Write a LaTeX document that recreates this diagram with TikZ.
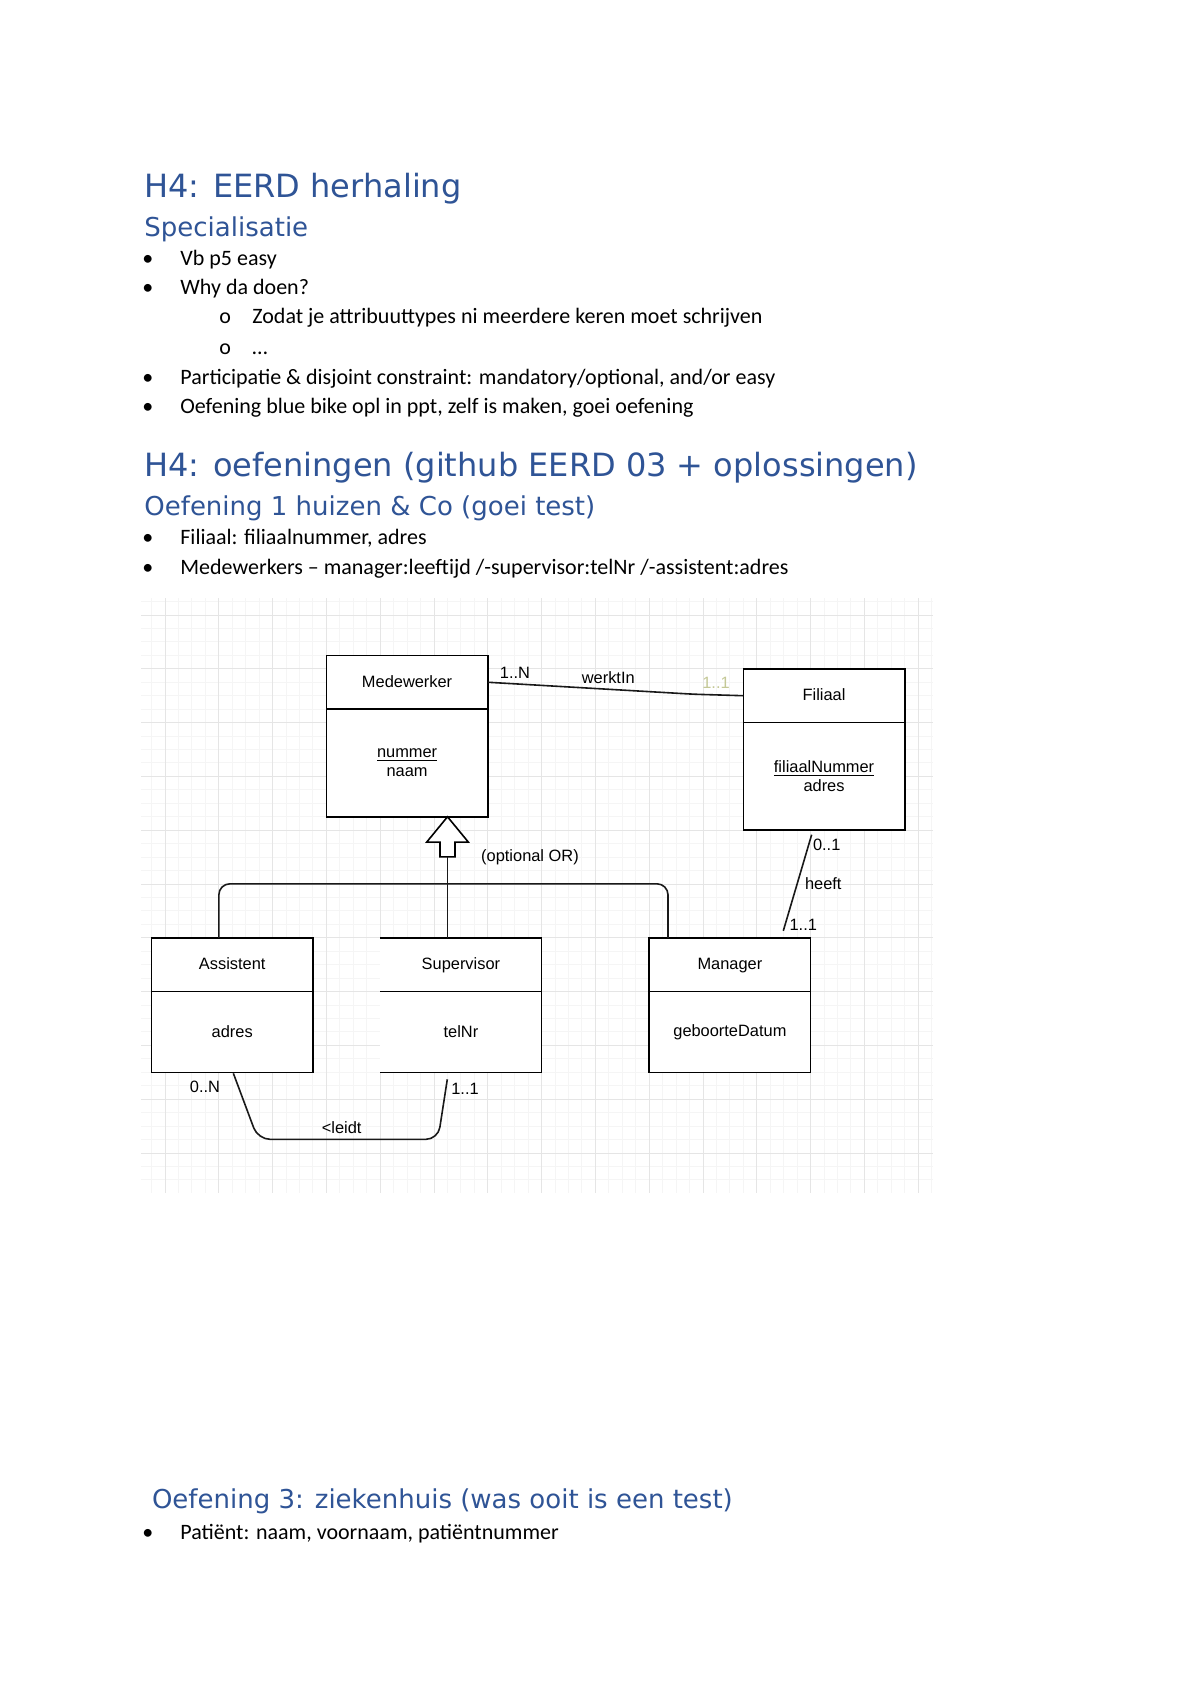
\documentclass[tikz,border=0pt]{standalone}
\usepackage{fontspec}
\setmainfont{Carlito}
\newfontfamily\headfont{DejaVu Sans}
\newfontfamily\diafont{Liberation Sans}
\usetikzlibrary{positioning,calc}
\definecolor{headblue}{RGB}{47,84,150}
\definecolor{gridminor}{RGB}{245,245,245}
\definecolor{gridmajor}{RGB}{229,229,229}
\definecolor{fadedlbl}{RGB}{196,200,150}

\begin{document}
\begin{tikzpicture}[
    x=0.5pt, y=-0.5pt,
    hone/.style={anchor=base west, inner sep=0pt, text=headblue, font=\headfont\fontsize{16}{19}\selectfont},
    htwo/.style={hone, font=\headfont\fontsize{13}{16}\selectfont},
    para/.style={anchor=base west, inner sep=0pt, font=\fontsize{11}{13}\selectfont},
    head/.style={rectangle, draw, fill=white, line width=0.8pt, outer sep=0pt, inner sep=0pt, minimum width=80.7pt, minimum height=26.9pt, font=\diafont\fontsize{8.2}{9.4}\selectfont},
    title/.style={head, text height=6pt, text depth=1.2pt},
    attr/.style={head, align=center},
    headopen/.style={title, draw=none},
    attropen/.style={attr, draw=none},
    lbl/.style={inner sep=0pt, font=\diafont\fontsize{8.2}{9.4}\selectfont},
    link/.style={line width=0.8pt, draw=black!90}
]
    \fill[white] (0,0) rectangle (1200,1698);
    \useasboundingbox (0,0) rectangle (1200,1698);

    \node[hone] (hOne) at (144,197) {H4: EERD herhaling};
    \node[htwo] (hSpec) at (144,236) {Specialisatie};
    \node[para] (dotA) at (142,265) {•};
    \node[para] (txtA) at (180,265) {Vb p5 easy};
    \node[para] (dotB) at (142,294.6) {•};
    \node[para] (txtB) at (180,294.6) {Why da doen?};
    \node[para] (subA) at (219,323.8) {o};
    \node[para] (txtC) at (252,323.8) {Zodat je attribuuttypes ni meerdere keren moet schrijven};
    \node[para] (subB) at (219,354) {o};
    \node[para] (txtD) at (252,354) {…};
    \node[para] (dotC) at (142,384.5) {•};
    \node[para] (txtE) at (180,384.5) {Participatie \& disjoint constraint: mandatory/optional, and/or easy};
    \node[para] (dotD) at (142,413.7) {•};
    \node[para] (txtF) at (180,413.7) {Oefening blue bike opl in ppt, zelf is maken, goei oefening};

    \node[hone] (hTwo) at (144,476.5) {H4: oefeningen (github EERD 03 + oplossingen)};
    \node[htwo] (hOef) at (144,515.5) {Oefening 1 huizen \& Co (goei test)};
    \node[para] (dotE) at (142,544.7) {•};
    \node[para] (txtG) at (180,544.7) {Filiaal: filiaalnummer, adres};
    \node[para] (dotF) at (142,574) {•};
    \node[para] (txtH) at (180,574) {Medewerkers – manager:leeftijd /-supervisor:telNr /-assistent:adres};

    \foreach \i in {-1,...,57}
        \draw[gridminor, line width=0.5pt] ({165+13.45*\i},598) -- ({165+13.45*\i},1193);
    \foreach \j in {-1,...,42}
        \draw[gridminor, line width=0.5pt] (141,{615+13.45*\j}) -- (933,{615+13.45*\j});
    \foreach \i in {0,...,14}
        \draw[gridmajor, line width=0.5pt] ({165+53.8*\i},598) -- ({165+53.8*\i},1193);
    \foreach \j in {0,...,10}
        \draw[gridmajor, line width=0.5pt] (141,{615+53.8*\j}) -- (933,{615+53.8*\j});

    \node[title, anchor=north west] (mwHead) at (326.4,655.35) {Medewerker};
    \node[attr, below=0pt of mwHead, minimum height=53.8pt] (mwBody) {\underline{nummer}\\naam};
    \node[title, anchor=north west] (filHead) at (743.35,668.8) {Filiaal};
    \node[attr, below=0pt of filHead, minimum height=53.8pt] (filBody) {\underline{filiaalNummer}\\adres};

    \node[title, anchor=north west] (asHead) at (151.55,937.8) {Assistent};
    \node[attr, below=0pt of asHead, minimum height=40.35pt] (asBody) {adres};
    \node[headopen, anchor=north west] (supHead) at (380.2,937.8) {Supervisor};
    \node[attropen, below=0pt of supHead, minimum height=40.35pt] (supBody) {telNr};
    \node[title, anchor=north west] (manHead) at (649.2,937.8) {Manager};
    \node[attr, below=0pt of manHead, minimum height=40.35pt] (manBody) {geboorteDatum};
    \draw[line width=0.8pt] (supHead.north west) -- (supHead.north east) -- (supBody.south east) -- (supBody.south west);
    \draw[line width=0.8pt] (supHead.south west) -- (supHead.south east);

    \coordinate (wkBend) at ($(filHead.west)+(-50,-1.5)$);
    \draw[link, rounded corners=4pt] (mwHead.east) -- (wkBend) -- (filHead.west);
    \node[lbl] (wkMw) at (515,673.3) {1..N};
    \node[lbl] (wkName) at (608.3,677.3) {werktIn};
    \node[lbl, text=fadedlbl] (wkFil) at (716,682.7) {1..1};

    \coordinate (isa) at ($(mwBody.south west)+(121.1,0)$);
    \coordinate (isaFoot) at ($(isa)+(0,40.15)$);
    \draw[line width=0.8pt, fill=white] (isa) -- ++(20.8,25.3) -- ++(-13.3,0) -- (isaFoot -| {$(isa)+(7.5,0)$}) -- (isaFoot -| {$(isa)+(-7.5,0)$}) -- ++(0,-14.8) -- ++(-13.3,0) -- cycle;
    \draw[link] (isaFoot) -- (supHead.north -| isa);
    \coordinate (brL) at ($(asHead.north west)+(67.3,0)$);
    \coordinate (brR) at ($(manHead.north west)+(18.8,0)$);
    \coordinate (brMid) at ($(isa)+(0,67.05)$);
    \draw[link, rounded corners=5.5pt] (brL) |- (brMid) -| (brR);
    \node[lbl] (isaLbl) at (530,857.5) {(optional OR)};

    \coordinate (hfTop) at ($(filBody.south west)+(68.3,4.5)$);
    \coordinate (hfBot) at ($(manHead.north west)+(134.1,-7)$);
    \draw[link] (hfTop) -- (hfBot);
    \node[lbl] (hfFil) at (826.7,845) {0..1};
    \node[lbl] (hfName) at (823.3,883.3) {heeft};
    \node[lbl] (hfMan) at (803.3,925) {1..1};

    \coordinate (ldStart) at ($(asBody.south west)+(81.8,1)$);
    \coordinate (ldEnd) at ($(supBody.south west)+(67.1,7)$);
    \draw[link, rounded corners=6pt] (ldStart) -- (258,1139.3) -- (438,1139.3) -- (ldEnd);
    \node[lbl] (ldAs) at (205,1086.7) {0..N};
    \node[lbl] (ldName) at (341.7,1127.3) {<leidt};
    \node[lbl] (ldSup) at (465,1089.3) {1..1};

    \node[htwo] (hZiek) at (151.6,1508.6) {Oefening 3: ziekenhuis (was ooit is een test)};
    \node[para] (dotG) at (142,1539) {•};
    \node[para] (txtI) at (180,1539) {Patiënt: naam, voornaam, patiëntnummer};
\end{tikzpicture}
\end{document}
